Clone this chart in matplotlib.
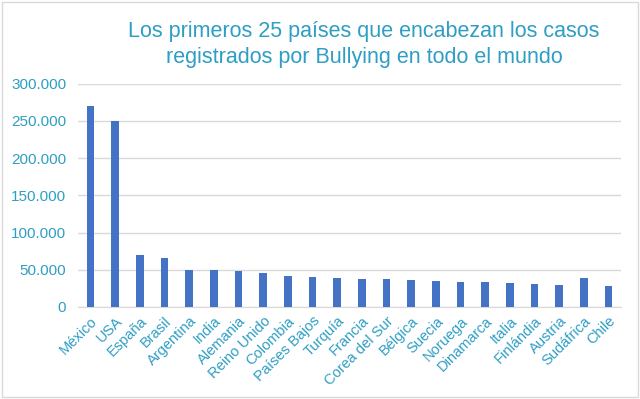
import matplotlib.pyplot as plt
from matplotlib.ticker import FuncFormatter
from matplotlib.patches import Rectangle

# data
paises = ["México", "USA", "España", "Brasil", "Argentina", "India", "Alemania",
          "Reino Unido", "Colombia", "Países Bajos", "Turquía", "Francia",
          "Corea del Sur", "Bélgica", "Suecia", "Noruega", "Dinamarca", "Italia",
          "Finlándia", "Austria", "Sudáfrica", "Chile"]
casos = [270000, 250000, 70000, 66000, 50000, 49500, 48000, 46000, 41500, 40000,
         39000, 38000, 37000, 36000, 35500, 34000, 33000, 32000, 31000, 30000,
         39000, 28500]
yticks = [0, 50000, 100000, 150000, 200000, 250000, 300000]
titulo = ["Los primeros 25 países que encabezan los casos",
          "registrados por Bullying en todo el mundo"]

texto = "#2E9EC4"
barra = "#4472C4"

plt.rcParams["font.family"] = ["Liberation Sans", "DejaVu Sans"]

fig = plt.figure(figsize=(6.4, 3.99), dpi=100)
ax = fig.add_axes([78 / 640, 1 - 307 / 399, (621 - 78) / 640, (307 - 83.5) / 399])

x = range(len(paises))
ax.bar(x, casos, width=0.31, color=barra, zorder=3)

ax.set_xlim(-0.5, len(paises) - 0.5)
ax.set_ylim(0, 300000)
ax.set_yticks(yticks)
ax.yaxis.set_major_formatter(FuncFormatter(lambda v, p: f"{int(v):,}".replace(",", ".")))
ax.grid(axis="y", color="#D9D9D9", linewidth=1, zorder=0)
ax.set_xticks(list(x))
ax.set_xticklabels(paises, rotation=45, ha="right", rotation_mode="anchor")

for s in ["top", "right", "left"]:
    ax.spines[s].set_visible(False)
ax.spines["bottom"].set_color("#D9D9D9")
ax.tick_params(axis="both", length=0, colors=texto, labelsize=10.5)
ax.tick_params(axis="y", labelsize=11, pad=8.5)
ax.tick_params(axis="x", pad=5)

# two title lines, placed by baseline
for i, linea in enumerate(titulo):
    fig.text(364 / 640, 1 - (36.7 + 26 * i) / 399, linea, ha="center", va="baseline",
             color=texto, fontsize=15.5)

fig.patches.append(Rectangle((0.003, 0.004), 0.994, 0.99, transform=fig.transFigure,
                             fill=False, edgecolor="#D9D9D9", linewidth=1))

fig.savefig("out.png", dpi=100)
